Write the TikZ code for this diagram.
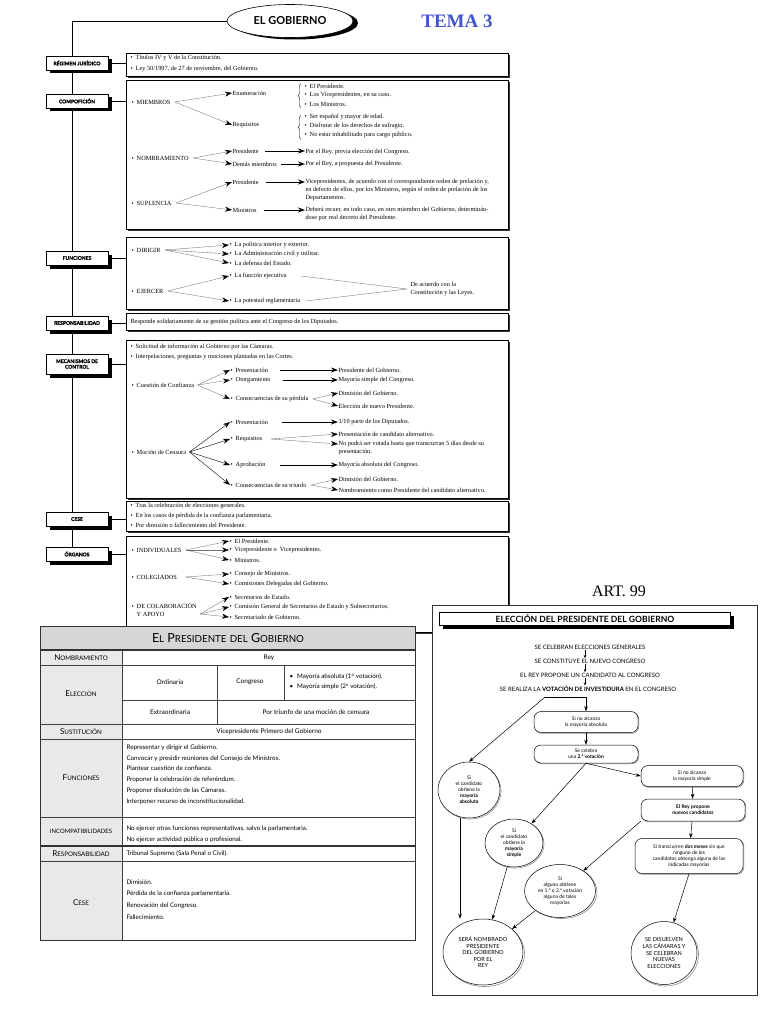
\documentclass[tikz,border=0pt]{standalone}
\usepackage{fontspec}
\usetikzlibrary{arrows.meta,shapes.geometric,decorations.pathreplacing}
\newfontfamily\lato{Lato}
\newfontfamily\labfont{Lato}[FakeBold=1.2]
\newfontfamily\tnr{Liberation Serif}
\definecolor{temablue}{RGB}{66,84,204}
\definecolor{ttlgray}{RGB}{214,214,214}
\definecolor{colgray}{RGB}{233,233,233}
\newcommand{\tfs}{\fontsize{6.3}{8}\selectfont\tnr}
\newcommand{\bu}{\textbullet\hspace{3pt}}
\newcommand{\SCs}[1]{\scalebox{0.78}{#1}}
\begin{document}
\begin{tikzpicture}[x=1pt,y={(0pt,-1pt)},
  t/.style={anchor=west,inner sep=0.3pt,font=\tfs,align=left},
  lab/.style={draw,line width=0.6pt,fill=white,minimum width=62,minimum height=14,inner sep=1pt,align=center,
     font=\fontsize{5}{5.6}\selectfont\labfont\bfseries},
  cb/.style={draw,line width=0.7pt,fill=white,anchor=north west,inner sep=0pt,minimum width=382},
  conn/.style={line width=0.7pt},
  fork/.style={draw=black!55,line width=0.35pt,-{Stealth[length=7pt,width=5pt,color=black]}},
  dfork/.style={draw=black,line width=0.4pt,-{Stealth[length=7pt,width=5pt,color=black]}},
  big/.style={line width=0.9pt,-{Stealth[length=7pt,width=5pt]}},
  thinl/.style={draw=black!55,line width=0.35pt},
  tb/.style={anchor=west,inner sep=0.3pt,font=\fontsize{6.3}{10.9}\selectfont\lato,align=left},
  tc/.style={inner sep=0.3pt,font=\fontsize{6.5}{10.9}\selectfont\lato,align=center},
  tl/.style={inner sep=0.3pt,font=\fontsize{8}{8.5}\selectfont\lato,align=center},
  fbox/.style={draw,rounded corners=7pt,line width=0.5pt,fill=white,align=center,inner sep=1pt,
     font=\fontsize{5}{6}\selectfont\lato},
  fcirc/.style={ellipse,draw,line width=0.5pt,fill=white,align=center,inner sep=0pt,
     font=\fontsize{5}{6}\selectfont\lato},
  fsh/.style={draw=black!45,line width=0.6pt},
  ftxt/.style={inner sep=0.5pt,font=\fontsize{6}{7}\selectfont\lato},
  farr/.style={line width=0.5pt,-{Stealth[length=5pt,width=3.5pt]}},
  sarr/.style={line width=0.4pt,-{Stealth[length=3pt,width=2.5pt]}}
]
\useasboundingbox (0,0) rectangle (768,1024);
\fill[white] (0,0) rectangle (768,1024);

% ---------- header ----------
\fill[black] (295,23) ellipse (63 and 16.5);
\node[ellipse,draw,line width=0.6pt,fill=white,minimum width=126,minimum height=33,
  font=\fontsize{11}{12}\selectfont\lato\bfseries] (gob) at (290,21) {EL GOBIERNO};
\node[font=\fontsize{19}{22}\selectfont\tnr\bfseries,text=temablue] (tema) at (457,21) {TEMA 3};

\coordinate (tk1) at (72,21);
\coordinate (tk2) at (72,554);
\draw[conn] (gob.west) -- (tk1) -- (tk2);

% ---------- content boxes (shadows, then boxes) ----------
\foreach \yt/\yb in {53/76,80/229,237/309,313/330,340/498,501/531,536/632}
  \fill[black!80] (127.8,{\yt+1.8}) rectangle (509.8,{\yb+1.8});
\node[cb,minimum height=23] (brj) at (126,53) {};
\node[cb,minimum height=149] (bcomp) at (126,80) {};
\node[cb,minimum height=72] (bfun) at (126,237) {};
\node[cb,minimum height=17] (bresp) at (126,313) {};
\node[cb,minimum height=158] (bmec) at (126,340) {};
\node[cb,minimum height=30] (bcese) at (126,501) {};
\node[cb,minimum height=96] (borg) at (126,536) {};

% ---------- labels ----------
\foreach \yy/\hh in {63/14,101/14,258/14,323/14,364/20,519/14,554/14}
  \fill[black] (49.5,{\yy-\hh/2+3.5}) rectangle (111.5,{\yy+\hh/2+3.5});
\node[lab] (lrj) at (77,63) {RÉGIMEN JURÍDICO};
\node[lab] (lcomp) at (77,101) {COMPOFICIÓN};
\node[lab] (lfun) at (77,258) {FUNCIONES};
\node[lab] (lresp) at (77,323) {RESPONSABILIDAD};
\node[lab,minimum height=20] (lmec) at (77,364) {MECANISMOS DE\\CONTROL};
\node[lab] (lcese) at (77,519) {CESE};
\node[lab] (lorg) at (77,554) {ÓRGANOS};
\foreach \a/\b in {lrj/brj,lcomp/bcomp,lfun/bfun,lresp/bresp,lmec/bmec,lcese/bcese,lorg/borg}
  \draw[conn] ([xshift=3.5pt]\a.east) -- (\a.east -| \b.west);

% ---------- Régimen ----------
\node[t] (rj1) at (130,58) {\bu Títulos IV y V de la Constitución.};
\node[t] (rj2) at (130,69) {\bu Ley 50/1997, de 27 de noviembre, del Gobierno.};

% ---------- Composición ----------
\node[t] (miem) at (131,102) {\bu MIEMBROS};
\node[t] (enum) at (232,93) {Enumeración};
\node[t] (req) at (232,125) {Requisitos};
\node[t] (e1) at (304,86) {\bu El Presidente.};
\node[t] (e2) at (304,95) {\bu Los Vicepresidentes, en su caso.};
\node[t] (e3) at (304,104) {\bu Los Ministros.};
\node[t] (r1) at (304,117) {\bu Ser español y mayor de edad.};
\node[t] (r2) at (304,126) {\bu Disfrutar de los derechos de sufragio.};
\node[t] (r3) at (304,135) {\bu No estar inhabilitado para cargo público.};
\draw[fork] ([xshift=4pt]miem.east) -- (enum.west);
\draw[fork] ([xshift=4pt]miem.east) -- (req.west);
\draw[line width=0.4pt,decorate,decoration={brace,amplitude=3pt}] (e3.south west) ++(-3,1) -- ++(0,-24);
\draw[line width=0.4pt,decorate,decoration={brace,amplitude=3pt}] (r3.south west) ++(-3,1) -- ++(0,-24);

\node[t] (nomb) at (131,158) {\bu NOMBRAMIENTO};
\node[t] (npres) at (232,151) {Presidente};
\node[t] (ndem) at (232,164) {Demás miembros};
\node[t] (nr1) at (305,152) {Por el Rey, previa elección del Congreso.};
\node[t] (nr2) at (305,164) {Por el Rey, a propuesta del Presidente.};
\draw[fork] ([xshift=4pt]nomb.east) -- (npres.west);
\draw[fork] ([xshift=4pt]nomb.east) -- (ndem.west);
\draw[big] ([xshift=6pt]npres.east) -- (npres.east -| nr1.west);
\draw[big] ([xshift=4pt]ndem.east) -- (nr2.west);

\node[t] (sup) at (131,203) {\bu SUPLENCIA};
\node[t] (spres) at (232,182) {Presidente};
\node[t] (smin) at (232,210) {Ministros};
\node[t,anchor=north west] (sv) at (305,178.5) {Vicepresidentes, de acuerdo con el correspondiente orden de prelación y,\\en defecto de ellos, por los Ministros, según el orden de prelación de los\\Departamentos.};
\node[t,anchor=north west] (sm) at (305,206.5) {Deberá recaer, en todo caso, en otro miembro del Gobierno, determinán-\\dose por real decreto del Presidente.};
\draw[fork] ([xshift=4pt]sup.east) -- (spres.west);
\draw[fork] ([xshift=4pt]sup.east) -- (smin.west);
\draw[big] ([xshift=7pt]spres.east) -- (spres.east -| sv.west);
\draw[big] ([xshift=7pt]smin.east) -- (smin.east -| sm.west);

% ---------- Funciones ----------
\node[t] (dir) at (131,250) {\bu DIRIGIR};
\node[t] (d1) at (229,245) {\bu La política interior y exterior.};
\node[t] (d2) at (229,254) {\bu La Administración civil y militar.};
\node[t] (d3) at (229,263) {\bu La defensa del Estado.};
\node[t] (ej) at (131,291) {\bu EJERCER};
\node[t] (j1) at (229,276) {\bu La función ejecutiva};
\node[t] (j2) at (229,301) {\bu La potestad reglamentaria};
\node[t] (deac) at (410,289) {De acuerdo con la\\Constitución y las Leyes.};
\foreach \n in {d1,d2,d3} \draw[fork] ([xshift=4pt]dir.east) -- (\n.west);
\draw[fork] ([xshift=4pt]ej.east) -- (j1.west);
\draw[fork] ([xshift=4pt]ej.east) -- (j2.west);
\draw[thinl] ([xshift=14pt]j1.east) -- ([xshift=-3pt]deac.west);
\draw[thinl] ([xshift=5pt]j2.east) -- ([xshift=-3pt]deac.west);

% ---------- Responsabilidad ----------
\node[t] (resp) at (130,322) {Responde solidariamente de su gestión política ante el Congreso de los Diputados.};

% ---------- Mecanismos ----------
\node[t] (m1) at (130,347) {\bu Solicitud de información al Gobierno por las Cámaras.};
\node[t] (m2) at (130,357) {\bu Interpelaciones, preguntas y mociones plantadas en las Cortes.};
\node[t] (cc) at (131,385) {\bu Cuestión de Confianza};
\node[t] (cc1) at (230,370) {\bu Presentación};
\node[t] (cc2) at (230,380) {\bu Otorgamiento};
\node[t] (cc3) at (230,399) {\bu Consecuencias de su pérdida};
\node[t] (ccr1) at (338,370) {Presidente del Gobierno.};
\node[t] (ccr2) at (338,380) {Mayoría simple del Congreso.};
\node[t] (ccr3) at (338,393) {Dimisión del Gobierno.};
\node[t] (ccr4) at (338,406) {Elección de nuevo Presidente.};
\foreach \n in {cc1,cc2,cc3} \draw[fork] ([xshift=3pt]cc.east) -- (\n.west);
\draw[big] ([xshift=12pt]cc1.east) -- (ccr1.west);
\draw[big] ([xshift=12pt]cc2.east) -- (ccr2.west);
\draw[fork] ([xshift=4pt]cc3.east) -- (ccr3.west);
\draw[fork] ([xshift=4pt]cc3.east) -- (ccr4.west);

\node[t] (mc) at (131,452) {\bu Moción de Censura};
\node[t] (mc1) at (230,422) {\bu Presentación};
\node[t] (mc2) at (230,439) {\bu Requisitos};
\node[t] (mc3) at (230,465) {\bu Aprobación};
\node[t] (mc4) at (230,485) {\bu Consecuencias de su triunfo};
\node[t] (mr1) at (338,422) {1/10 parte de los Diputados.};
\node[t] (mr2) at (338,434) {Presentación de candidato alternativo.};
\node[t] (mr3) at (338,444) {No podrá ser votada hasta que transcurran 5 días desde su};
\node[t] (mr3b) at (338,452) {presentación.};
\node[t] (mr4) at (338,465) {Mayoría absoluta del Congreso.};
\node[t] (mr5) at (338,479) {Dimisión del Gobierno.};
\node[t] (mr6) at (338,490) {Nombramiento como Presidente del candidato alternativo.};
\foreach \n in {mc1,mc2,mc3,mc4} \draw[dfork] ([xshift=3pt]mc.east) -- (\n.west);
\draw[big] ([xshift=14pt]mc1.east) -- (mr1.west);
\draw[fork] ([xshift=8pt]mc2.east) -- (mr2.west);
\draw[fork] ([xshift=8pt]mc2.east) -- (mr3.west);
\draw[big] ([xshift=14pt]mc3.east) -- (mr4.west);
\draw[fork] ([xshift=4pt]mc4.east) -- (mr5.west);
\draw[fork] ([xshift=4pt]mc4.east) -- (mr6.west);

% ---------- Cese ----------
\node[t] (c1) at (130,506) {\bu Tras la celebración de elecciones generales.};
\node[t] (c2) at (130,516) {\bu En los casos de pérdida de la confianza parlamentaria.};
\node[t] (c3) at (130,525) {\bu Por dimisión o fallecimiento del Presidente.};

% ---------- Órganos ----------
\node[t] (oi) at (131,550) {\bu INDIVIDUALES};
\node[t] (oi1) at (229,541) {\bu El Presidente.};
\node[t] (oi2) at (229,550) {\bu Vicepresidente o\ \ Vicepresidentes.};
\node[t] (oi3) at (229,560) {\bu Ministros.};
\node[t] (oc) at (131,577) {\bu COLEGIADOS};
\node[t] (oc1) at (229,574) {\bu Consejo de Ministros.};
\node[t] (oc2) at (229,584) {\bu Comisiones Delegadas del Gobierno.};
\node[t] (oa) at (131,610) {\bu DE COLABORACIÓN\\\phantom{\bu}Y APOYO};
\node[t] (oa1) at (229,597) {\bu Secretarios de Estado.};
\node[t] (oa2) at (229,607) {\bu Comisión General de Secretarios de Estado y Subsecretarios.};
\node[t] (oa3) at (229,617) {\bu Secretariado de Gobierno.};
\foreach \n in {oi1,oi2,oi3} \draw[fork] ([xshift=4pt]oi.east) -- (\n.west);
\foreach \n in {oc1,oc2} \draw[fork] ([xshift=8pt]oc.east) -- (\n.west);
\foreach \n in {oa1,oa2,oa3} \draw[fork] ([xshift=3pt,yshift=-4pt]oa.east) -- (\n.west);

% ---------- Table ----------
\fill[white] (40,626) rectangle (415,940);
\fill[ttlgray] (40,626) rectangle (415,650);
\fill[colgray] (40,650) rectangle (122,940);
\draw[line width=0.5pt,black!75] (40,665) -- (415,665) (122,700) -- (415,700)
   (40,724) -- (415,724) (40,739) -- (415,739) (40,817) -- (415,817) (40,861) -- (415,861)
   (122,650) -- (122,940) (217,665) -- (217,724) (284,665) -- (284,700);
\draw[line width=1.1pt,black!80] (40,650) -- (415,650) (40,846) -- (415,846);
\draw[line width=0.7pt,black!80] (40,626) rectangle (415,940);
\node[font=\fontsize{12.5}{13}\selectfont\lato] (ttl) at (228,638) {E\SCs{L} P\SCs{RESIDENTE} \SCs{DEL} G\SCs{OBIERNO}};
\node[tl] (hn) at (81,657.5) {N\SCs{OMBRAMIENTO}};
\node[tl] (he) at (81,694) {E\SCs{LECCION}};
\node[tl] (hs) at (81,731.5) {S\SCs{USTITUCIÓN}};
\node[tl] (hf) at (81,778) {F\SCs{UNCIONES}};
\node[tl,font=\fontsize{7.6}{8}\selectfont\lato] (hi) at (81,831) {\SCs{INCOMPATIBILIDADES}};
\node[tl] (hr) at (81,853.5) {R\SCs{ESPONSABILIDAD}};
\node[tl] (hc) at (81,903) {C\SCs{ESE}};
\node[tc] (vrey) at (269,657.5) {Rey};
\node[tc] (vord) at (170,682) {Ordinaria};
\node[tc] (vcon) at (250,682) {Congreso};
\node[tb] (vma) at (289,677) {\textbullet\hspace{4pt}Mayoría absoluta (1\textsuperscript{a} votación).};
\node[tb] (vms) at (289,687) {\textbullet\hspace{4pt}Mayoría simple (2\textsuperscript{a} votación).};
\node[tc] (vext) at (170,712) {Extraordinaria};
\node[tc] (vtri) at (316,712) {Por triunfo de una moción de censura};
\node[tc] (vsus) at (269,731.5) {Vicepresidente Primero del Gobierno};
\node[tb,anchor=north west] (vfun) at (126,744) {Representar y dirigir el Gobierno.\\Convocar y presidir reuniones del Consejo de Ministros.\\Plantear cuestión de confianza.\\Proponer la celebración de referéndum.\\Proponer disolución de las Cámaras.\\Interponer recurso de inconstitucionalidad.};
\node[tb,anchor=north west] (vinc) at (126,825) {No ejercer otras funciones representativas, salvo la parlamentaria.\\No ejercer actividad pública o profesional.};
\node[tb] (vres) at (126,853.5) {Tribunal Supremo (Sala Penal o Civil).};
\node[tb,anchor=north west,font=\fontsize{6.3}{11.8}\selectfont\lato] (vces) at (126,879) {Dimisión.\\Pérdida de la confianza parlamentaria.\\Renovación del Congreso.\\Fallecimiento.};

% ---------- Flowchart ----------
\node[font=\fontsize{16}{18}\selectfont\tnr] (art) at (619,591) {ART. 99};
\draw[line width=0.8pt,black!80,fill=white] (432,605) rectangle (757,995);
\fill[black] (442.5,615.5) rectangle (733.5,628.5);
\node[draw,line width=0.6pt,fill=white,minimum width=291,minimum height=13,inner sep=0pt,
  font=\fontsize{8.6}{9}\selectfont\lato\bfseries] (ftitle) at (585,619) {ELECCIÓN DEL PRESIDENTE DEL GOBIERNO};
\node[ftxt] (f1) at (590,647) {SE CELEBRAN ELECCIONES GENERALES};
\node[ftxt] (f2) at (590,661) {SE CONSTITUYE EL NUEVO CONGRESO};
\node[ftxt] (f3) at (590,675) {EL REY PROPONE UN CANDIDATO AL CONGRESO};
\node[ftxt] (f4) at (588,689) {SE REALIZA LA \textbf{VOTACIÓN DE INVESTIDURA} EN EL CONGRESO};
\draw[sarr] ([xshift=-5pt]f1.south) -- ([xshift=-5pt]f2.north);
\draw[sarr] ([xshift=-5pt]f2.south) -- ([xshift=-5pt]f3.north);
\draw[sarr] ([xshift=-5pt]f3.south) -- ([xshift=-3pt]f4.north);

% shadows of the rounded boxes and circles
\draw[fsh,rounded corners=7pt] (534.8,712.3) rectangle (638.8,733.3);
\draw[fsh,rounded corners=7pt] (534.8,745.8) rectangle (638.8,763.8);
\draw[fsh,rounded corners=7pt] (641.8,766.3) rectangle (743.8,787.3);
\draw[fsh,rounded corners=7pt] (641.8,799.8) rectangle (745.8,821.8);
\draw[fsh,rounded corners=7pt] (635.8,839.3) rectangle (743.8,874.3);
\draw[fsh] (470,791) ellipse (31 and 28);
\draw[fsh] (515,844) ellipse (29 and 24);
\draw[fsh] (561.5,892) ellipse (35.5 and 26.5);
\draw[fsh] (484.5,953.5) ellipse (40 and 33);
\draw[fsh] (665.5,954.5) ellipse (33 and 31.5);

\node[fbox,minimum width=104,minimum height=21] (b1) at (586,722) {Si no alcanza\\la mayoría absoluta};
\node[fbox,minimum width=104,minimum height=18] (b2) at (586,754) {Se celebra\\una \textbf{2.ª votación}};
\node[fbox,minimum width=102,minimum height=21] (b3) at (692,776) {Si no alcanza\\la mayoría simple};
\node[fbox,minimum width=104,minimum height=22] (b4) at (693,810) {\textbf{El Rey propone}\\\textbf{nuevos candidatos}};
\node[fbox,minimum width=108,minimum height=35] (b5) at (689,856) {Si transcurren \textbf{dos meses} sin que\\ninguno de los\\candidatos obtenga alguna de las\\indicadas mayorías};
\node[fcirc,minimum width=62,minimum height=56] (ci1) at (469,790) {Si\\el candidato\\obtiene la\\\textbf{mayoría}\\\textbf{absoluta}};
\node[fcirc,minimum width=58,minimum height=48] (ci2) at (514,843) {Si\\el candidato\\obtiene la\\\textbf{mayoría}\\\textbf{simple}};
\node[fcirc,minimum width=71,minimum height=53] (ci3) at (560,891) {Si\\alguno obtiene\\en 1.ª o 2.ª votación\\alguna de tales\\mayorías};
\node[fcirc,minimum width=80,minimum height=66,font=\fontsize{5.6}{6.6}\selectfont\lato] (ci4) at (483,952) {SERÁ NOMBRADO\\PRESIDENTE\\DEL GOBIERNO\\POR EL\\REY};
\node[fcirc,minimum width=66,minimum height=63,font=\fontsize{5.6}{6.6}\selectfont\lato] (ci5) at (664,953) {SE DISUELVEN\\LAS CÁMARAS Y\\SE CELEBRAN\\NUEVAS\\ELECCIONES};

\coordinate (bL) at (545,697);
\coordinate (bR) at (586,697);
\draw[line width=0.5pt] (bL) -- (bR);
\draw[farr] (bR) -- (b1.north);
\draw[farr] (bL) -- (ci1.north);
\draw[farr] (b1) -- (b2);
\draw[farr] (b2.south) -- (b3.west);
\draw[farr] (b2.south) -- (ci2);
\draw[farr] (b3) -- (b4);
\draw[farr] (b4) -- (b5);
\draw[farr] (b4.south west) -- (ci3);
\draw[farr] ([xshift=-9pt]ci1.south) -- ([xshift=-9pt]ci1.south |- ci4.north);
\draw[farr] (ci2) -- (ci4);
\draw[farr] (ci3) -- (ci4);
\draw[farr] (b5.south) -- (ci5);
\end{tikzpicture}
\end{document}
